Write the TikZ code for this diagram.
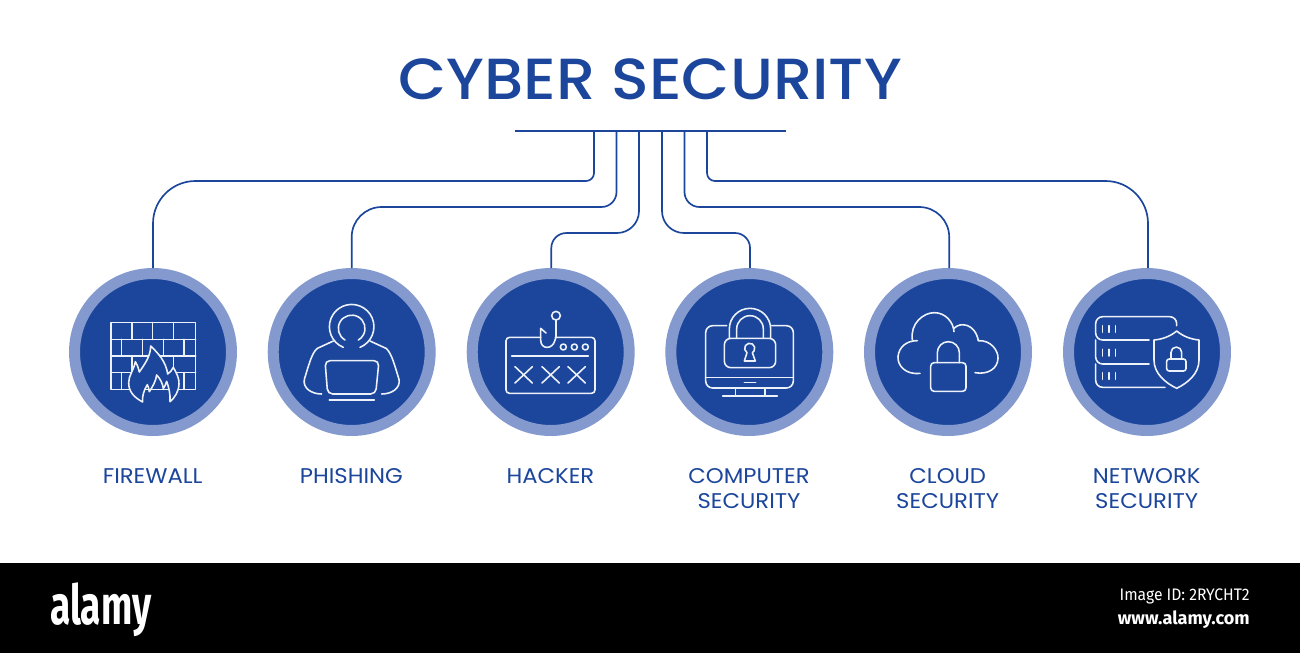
\documentclass[tikz,border=0pt]{standalone}
\usepackage{fontspec}
\setmainfont{Poppins Medium}
\newfontfamily\capfont{Poppins}
\newfontfamily\markfont{Fira Sans}
\definecolor{deepblue}{HTML}{1B469C}
\definecolor{ringblue}{HTML}{8499CE}
\definecolor{iconline}{HTML}{EDF1F9}
\tikzset{
    disc/.style={circle,draw=ringblue,fill=deepblue,line width=0.22cm,minimum size=3.14cm,inner sep=0pt},
    wire/.style={draw=deepblue,line width=0.95pt},
    icon/.style={draw=iconline,line width=0.9pt,line cap=round,line join=round},
    caption/.style={text=deepblue,anchor=north,inner sep=0pt,align=center,xscale=1.07,font=\capfont\fontsize{12.1}{14.2}\selectfont},
}
\begin{document}
\begin{tikzpicture}[x=0.02cm,y=-0.02cm]
    \useasboundingbox (0,0) rectangle (1300,653);
    \fill[white] (0,0) rectangle (1300,653);
    \fill[black] (0,563) rectangle (1300,653);
    % title and rule
    \node[text=deepblue,anchor=base,inner sep=0pt,xscale=1.075,font=\fontsize{33}{33}\selectfont] (title) at (650,99) {CYBER SECURITY};
    \coordinate (ruleL) at (515,131);
    \coordinate (ruleR) at (786,131);
    \draw[wire] (ruleL)--(ruleR);
    % discs and captions
    \foreach \name/\cx/\txt in {fw/153/FIREWALL,ph/351.7/PHISHING,hk/550.7/HACKER,cs/749.3/{COMPUTER\\SECURITY},cl/948/{CLOUD\\SECURITY},ns/1147/{NETWORK\\SECURITY}} {
        \node[disc] (\name) at (\cx,352) {};
        \node[caption] (\name txt) at (\cx-0.3,468.3) {\txt};
    }
    % connectors
    \coordinate (busA) at (594,131);
    \coordinate (busB) at (616.5,131);
    \coordinate (busC) at (639,131);
    \coordinate (busD) at (662,131);
    \coordinate (busE) at (684.5,131);
    \coordinate (busF) at (707,131);
    \coordinate (hkTop) at (551.3,268);
    \coordinate (csTop) at (750,268);
    \coordinate (clTop) at (949.2,268);
    \coordinate (nsTop) at (1148,268);
    \draw[wire] (busA) [rounded corners=0.16cm] -- (busA |- 0,181) [rounded corners=0.85cm] -- (fw.north |- 0,181) -- (fw.north);
    \draw[wire] (busB) [rounded corners=0.3cm] -- (busB |- 0,207) [rounded corners=0.6cm] -- (ph.north |- 0,207) -- (ph.north);
    \draw[wire] (busC) [rounded corners=0.44cm] -- (busC |- 0,233) [rounded corners=0.3cm] -- (hkTop |- 0,233) -- (hkTop);
    \draw[wire] (busD) [rounded corners=0.44cm] -- (busD |- 0,233) [rounded corners=0.3cm] -- (csTop |- 0,233) -- (csTop);
    \draw[wire] (busE) [rounded corners=0.3cm] -- (busE |- 0,207) [rounded corners=0.6cm] -- (clTop |- 0,207) -- (clTop);
    \draw[wire] (busF) [rounded corners=0.16cm] -- (busF |- 0,181) [rounded corners=0.85cm] -- (nsTop |- 0,181) -- (nsTop);
    % firewall and phishing hood
    \begin{scope}[shift={(60,260)},scale=1/3]
        \draw[icon] (153,188) rectangle (407,388);
        \foreach \y in {238,288,338} \draw[icon] (153,\y)--(407,\y);
        \foreach \x in {216,278,340} {
            \draw[icon] (\x,188)--(\x,238);
            \draw[icon] (\x,288)--(\x,338);
        }
        \foreach \x in {185,247,310,372} {
            \draw[icon] (\x,238)--(\x,288);
            \draw[icon] (\x,338)--(\x,388);
        }
        \draw[icon,fill=deepblue] (248,426) .. controls (222,412) and (206,395) .. (206,368) .. controls (206,345) and (222,330) .. (226,305)
            .. controls (232,315) and (236,325) .. (238,336) .. controls (252,315) and (272,290) .. (272,258)
            .. controls (295,280) and (318,305) .. (323,342) .. controls (330,338) and (336,330) .. (340,322)
            .. controls (350,340) and (358,355) .. (357,372) .. controls (356,395) and (345,412) .. (330,425)
            .. controls (332,405) and (326,380) .. (320,364) .. controls (318,372) and (314,380) .. (310,386)
            .. controls (308,370) and (300,355) .. (290,345) .. controls (288,362) and (278,380) .. (268,395)
            .. controls (267,388) and (265,380) .. (262,374) .. controls (252,390) and (246,408) .. (248,426);
        % hood
        \draw[icon] (850,262) arc[start angle=112,end angle=428,radius=66.8];
        \draw[icon] (855,240) arc[start angle=120,end angle=420,radius=40];
        \draw[icon] (820,243) -- (772,265) .. controls (755,278) and (745,320) .. (733,358) .. controls (728,385) and (755,402) .. (785,402);
        \draw[icon] (930,243) -- (978,265) .. controls (995,278) and (1005,320) .. (1017,358) .. controls (1022,385) and (995,402) .. (965,402);
        \draw[icon,rounded corners=0.1cm] (803,402) -- (795,302) -- (957,302) -- (947,402) -- cycle;
        \draw[icon] (808,420)--(943,420);
    \end{scope}
    % hook card and monitor
    \begin{scope}[shift={(460,260)},scale=1/3]
        \draw[icon,rounded corners=0.07cm] (242,232) -- (138,232) -- (138,400) -- (405,400) -- (405,232) -- (286,232);
        \draw[icon] (155,288)--(385,288);
        \foreach \x in {191,272,350} {
            \draw[icon] (\x-26,320)--(\x+26,369);
            \draw[icon] (\x-26,369)--(\x+26,320);
        }
        \foreach \x in {310,343,376} \draw[icon] (\x,261) circle[radius=9];
        \draw[icon] (288,167) circle[radius=13];
        \draw[icon] (288,180) -- (288,232) -- (284,243) .. controls (278,268) and (242,270) .. (242,240) -- (242,205) -- (258,219);
        % monitor
        \draw[icon,rounded corners=0.14cm] (800,197) -- (737,197) -- (737,384) -- (1000,384) -- (1000,197) -- (935,197);
        \draw[icon] (737,352)--(1000,352);
        \draw[icon] (853,367)--(887,367);
        \draw[icon] (827,384)--(827,408);
        \draw[icon] (915,384)--(915,408);
        \draw[icon] (788,408)--(952,408);
        \draw[icon,rounded corners=0.13cm] (793,235) rectangle (947,323);
        \draw[icon] (808,235) -- (808,207) arc[start angle=180,end angle=360,radius=62] -- (932,235);
        \draw[icon] (830,235) -- (830,207) arc[start angle=180,end angle=360,radius=40] -- (910,235);
        \draw[icon] (877,278) -- (886,303) -- (853,303) -- (861,278) arc[start angle=122,end angle=418,radius=15.3];
    \end{scope}
    % cloud and servers
    \begin{scope}[shift={(855,260)},scale=1/3]
        \draw[icon] (195,340) .. controls (150,345) and (127,315) .. (129,290) .. controls (132,260) and (155,242) .. (187,242);
        \draw[icon] (172,240) .. controls (165,190) and (205,158) .. (238,158) .. controls (270,158) and (295,185) .. (297,215);
        \draw[icon] (297,205) .. controls (315,185) and (360,190) .. (370,242);
        \draw[icon] (370,242) .. controls (408,240) and (430,272) .. (429,295) .. controls (428,325) and (400,345) .. (360,338);
        \draw[icon,rounded corners=0.07cm] (227,308) rectangle (333,394);
        \draw[icon] (247,308) -- (247,278) arc[start angle=180,end angle=360,radius=33] -- (313,308);
        % servers
        \draw[icon,rounded corners=0.14cm] (882,240) -- (722,240) -- (722,170) -- (965,170) -- (965,197);
        \draw[icon,rounded corners=0.14cm] (882,312) -- (722,312) -- (722,240);
        \draw[icon,rounded corners=0.14cm] (930,382) -- (722,382) -- (722,312);
        \foreach \y in {197,268,338}
            \foreach \x in {742,762,782}
                \draw[icon] (\x,\y)--(\x,\y+20);
        \draw[icon] (965,213) .. controls (985,230) and (1010,238) .. (1032,240) -- (1032,300) .. controls (1032,340) and (1000,368) .. (965,385)
            .. controls (930,368) and (897,340) .. (897,300) -- (897,240) .. controls (920,238) and (945,230) .. (965,213) -- cycle;
        \draw[icon,rounded corners=0.05cm] (935,297) rectangle (993,333);
        \draw[icon] (948,297) -- (948,277) arc[start angle=180,end angle=360,radius=16] -- (980,297);
    \end{scope}
    % footer
    \node[white,anchor=base west,inner sep=0pt,font=\markfont\bfseries\fontsize{34}{34}\selectfont,xscale=0.62,yscale=0.92] (alamy) at (50,624) {alamy};
    \node[white,anchor=base east,inner sep=0pt,font=\markfont\fontsize{9.5}{9.5}\selectfont,xscale=0.94] (imageid) at (1250,600) {Image ID: 2RYCHT2};
    \node[white,anchor=base east,inner sep=0pt,font=\markfont\bfseries\fontsize{10.3}{10.3}\selectfont] (site) at (1250,624) {www.alamy.com};
\end{tikzpicture}
\end{document}
